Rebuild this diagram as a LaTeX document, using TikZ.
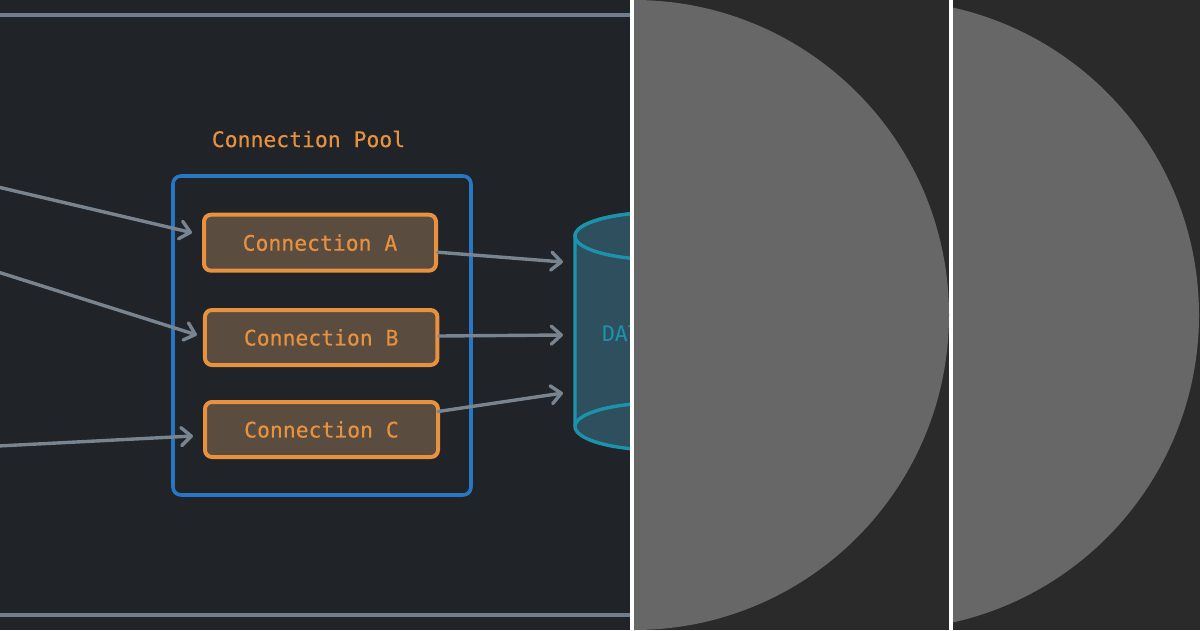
\documentclass[tikz,border=0pt]{standalone}
\usepackage{fontspec}
\setmonofont[FakeBold=0.25]{DejaVu Sans Mono}
\newfontfamily\dbfont{DejaVu Sans Mono}
\usetikzlibrary{arrows.meta}
\definecolor{panelA}{HTML}{202328}
\definecolor{panelB}{HTML}{2A2A2A}
\definecolor{disc}{HTML}{676767}
\definecolor{rule}{HTML}{707D8D}
\definecolor{orangeC}{HTML}{E8923F}
\definecolor{orangeF}{HTML}{5A4C3F}
\definecolor{blueC}{HTML}{2877C4}
\definecolor{tealC}{HTML}{1C93AC}
\definecolor{tealF}{HTML}{2E4F5D}
\definecolor{arrowC}{HTML}{78848F}
\tikzset{
  x=1pt,y=-1pt,
  monotext/.style={font=\fontsize{21.4}{24}\selectfont\ttfamily,inner sep=0pt,outer sep=0pt},
  connbox/.style={monotext,draw=orangeC,fill=orangeF,line width=4pt,rounded corners=7pt,text=orangeC,anchor=center},
  flow/.style={draw=arrowC,line width=3.4pt,line cap=round,-{Straight Barb[length=10pt,width=18pt,line width=3.4pt,round]}},
  rulebar/.style={draw=rule,line width=3.4pt},
  cylline/.style={draw=tealC,line width=3.4pt,fill=tealF},
}
\begin{document}
\begin{tikzpicture}
\useasboundingbox (0,0) rectangle (1200,630);
\fill[panelA] (0,0) rectangle (631,630);
\draw[rulebar] (0,15) -- (631,15);
\draw[rulebar] (0,615) -- (631,615);
% database
\draw[cylline] (575,236) -- (575,426.5) arc[start angle=180,end angle=360,x radius=83,y radius=-23.5] -- (741,236) arc[start angle=0,end angle=180,x radius=83,y radius=-23.5] -- cycle;
\draw[cylline] (658,236) ellipse[x radius=83,y radius=23.5];
\draw[cylline] (575,426.5) arc[start angle=180,end angle=0,x radius=83,y radius=-23.5];
\node[inner sep=0pt,outer sep=0pt,minimum width=166pt,minimum height=190pt] (db) at (658,331) {};
\node[inner sep=0pt,outer sep=0pt,font=\fontsize{21.4}{24}\selectfont\dbfont,text=tealC,anchor=west] (dbl) at (602,334) {DAT};
% pool
\node[draw=blueC,line width=3.6pt,rounded corners=8pt,inner sep=0pt,outer sep=0pt,minimum width=298pt,minimum height=319pt] (pool) at (322,335.5) {};
\node[monotext,text=orangeC] (pooll) at (308.5,139) {Connection Pool};
\node[connbox,minimum width=232pt,minimum height=56pt] (ca) at (320,242.7) {Connection A};
\node[connbox,minimum width=232.5pt,minimum height=55pt] (cb) at (321.2,337.5) {Connection B};
\node[connbox,minimum width=233pt,minimum height=55pt] (cc) at (321.5,429.5) {Connection C};
\coordinate (s1) at (-2,187);
\coordinate (s2) at (-2,272);
\coordinate (s3) at (-2,446);
\draw[flow] (s1) -- ([shift={(-12,-10)}]ca.west);
\draw[flow] (s2) -- ([shift={(-8,-2.5)}]cb.west);
\draw[flow] (s3) -- ([shift={(-12,6.5)}]cc.west);
\draw[flow] (ca.east)++(1.5,9.5) -- ([shift={(-12,-69)}]db.west);
\draw[flow] ([shift={(1.5,-1.5)}]cb.east) -- ([shift={(-12,4)}]db.west);
\draw[flow] ([shift={(0,-18)}]cc.east) -- ([shift={(-12,62)}]db.west);
% strips and right panels
\fill[white] (630,0) rectangle (1200,630);
\fill[panelB] (634,0) rectangle (949,630);
\fill[panelB] (953,0) rectangle (1200,630);
\begin{scope}
  \clip (634,0) rectangle (949,630);
  \fill[disc] (634,315) circle[radius=315];
\end{scope}
\begin{scope}
  \clip (953,0) rectangle (1200,630);
  \fill[disc] (884,315) circle[radius=315];
\end{scope}
\end{tikzpicture}
\end{document}
